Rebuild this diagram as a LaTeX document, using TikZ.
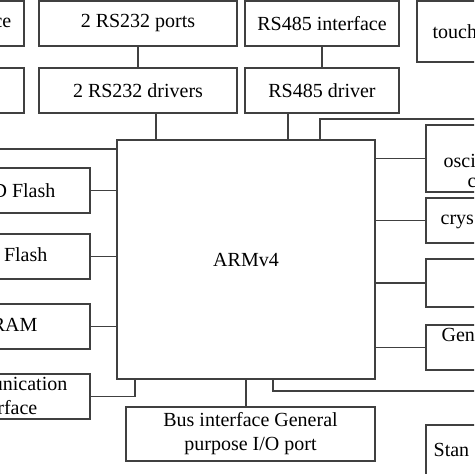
\documentclass[tikz,border=0pt]{standalone}
\usepackage{fontspec}
\setmainfont{Liberation Serif}
\usetikzlibrary{positioning,calc}

\begin{document}
\begin{tikzpicture}[x=0.5pt, y=-0.5pt, line width=0.65pt, draw=black!75,
  every node/.style={font=\normalsize},
  blk/.style={draw=black!75, inner sep=0pt, align=center, minimum height=22.5pt},
  frag/.style={inner sep=0pt}]
\useasboundingbox (0,0) rectangle (474,474);
\clip (0,0) rectangle (474,474);

% top rows
\node[blk, minimum width=52pt] (ifc) at (-28,23.5) {};
\node[blk, minimum width=99pt] (ports) at (138,23.5) {2 RS232 ports};
\node[blk, minimum width=77pt] (rsif) at (322,23.5) {RS485 interface};
\node[blk, minimum width=71.5pt, minimum height=30.5pt] (touch) at (488.5,31.5) {};
\node[blk, minimum width=52pt] (drv) at (-28,90.5) {};
\node[blk, minimum width=99pt] (drv232) at (138,90.5) {2 RS232 drivers};
\node[blk, minimum width=77pt] (drv485) at (322,90.5) {RS485 driver};

% processor
\node[blk, minimum width=129pt, minimum height=119.5pt] (arm) at (246,259.5) {ARMv4};

% left side
\node[blk, minimum width=75pt] (nand) at (15,190.5) {};
\node[blk, minimum width=75pt] (nor) at (15,256.5) {};
\node[blk, minimum width=75pt] (ram) at (15,326.5) {};
\node[blk, minimum width=75pt] (comm) at (15,396.5) {};
\node[blk, minimum width=124.5pt, minimum height=27pt] (bus) at (250.5,434) {Bus interface General\\purpose I/O port};

% right side
\node[blk, minimum width=67pt, minimum height=33.5pt] (osc) at (493,158.5) {};
\node[blk, minimum width=67pt] (crys) at (493,220.5) {};
\node[blk, minimum width=67pt, minimum height=24pt] (rbox) at (493,283) {};
\node[blk, minimum width=67pt] (gen) at (493,347.5) {};
\node[blk, minimum width=67pt, minimum height=47.5pt] (stan) at (493,472.5) {};

% cut-off labels
\node[frag, anchor=east] (tce) at (12,23) {ce};
\node[frag, anchor=west] (ttouch) at (432,32) {touch};
\node[frag, anchor=east] (tnand) at (56,191) {D Flash};
\node[frag, anchor=east] (tnor) at (48,255) {Flash};
\node[frag, anchor=east] (tram) at (38,325) {RAM};
\node[frag, anchor=east] (tcomm) at (68,384) {unication};
\node[frag, anchor=east] (tcomm2) at (38,408) {rface};
\node[frag, anchor=west] (tosc) at (443,161) {osci};
\node[frag, anchor=west] (tosc2) at (467,183) {c};
\node[frag, anchor=west] (tcrys) at (440,222) {crys};
\node[frag, anchor=west] (tgen) at (441,335) {Gen};
\node[frag, anchor=west] (tstan) at (433,450) {Stan};

% free ends
\coordinate (tl) at (-10,149);
\coordinate (tr) at (500,119);
\coordinate (br) at (500,391);

% connections
\draw (ports) -- (drv232);
\draw (rsif) -- (drv485);
\draw ([xshift=9pt]drv232.south) -- ([xshift=9pt]drv232.south |- arm.north);
\draw ([xshift=-17pt]drv485.south) -- ([xshift=-17pt]drv485.south |- arm.north);
\draw ([xshift=37pt]arm.north) |- (tr);
\draw (tl) -- (tl -| arm.west);
\draw (nand.east) -- (nand.east -| arm.west);
\draw (nor.east) -- (nor.east -| arm.west);
\draw (ram.east) -- (ram.east -| arm.west);
\draw (comm.east) -| ([xshift=-55.5pt]arm.south);
\draw (arm.south) -- (arm.south |- bus.north);
\draw ([xshift=13.5pt]arm.south) |- (br);
\draw (arm.east |- osc.west) -- (osc.west);
\draw (arm.east |- crys.west) -- (crys.west);
\draw (arm.east |- rbox.west) -- (rbox.west);
\draw (arm.east |- gen.west) -- (gen.west);
\end{tikzpicture}
\end{document}
